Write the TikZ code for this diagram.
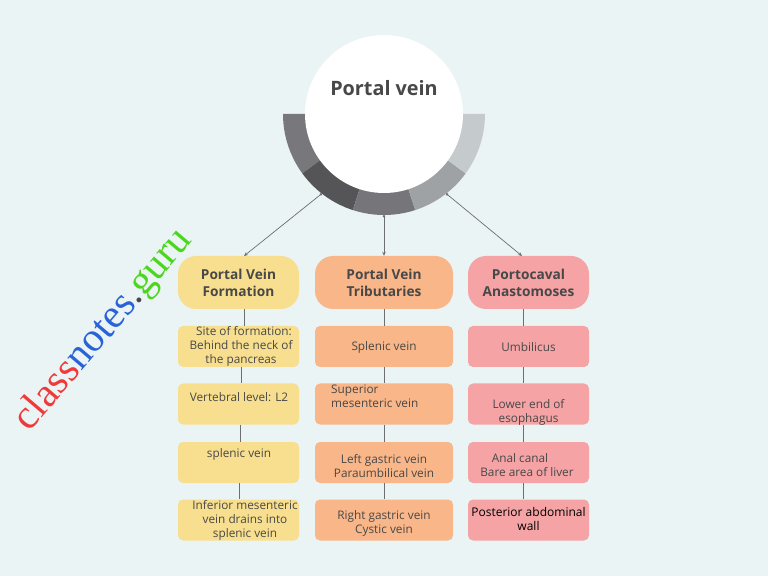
\documentclass[tikz,border=0pt]{standalone}
\usepackage{fontspec}
\setmainfont{Open Sans}
\newfontfamily\wmfont{Liberation Serif}
\usetikzlibrary{arrows.meta}
\definecolor{bg}{HTML}{EAF4F5}
\definecolor{yel}{HTML}{F8DF8F}
\definecolor{org}{HTML}{F9B688}
\definecolor{pnk}{HTML}{F5A3A5}
\definecolor{txt}{HTML}{484848}
\definecolor{lin}{HTML}{6E6E6E}
\definecolor{sega}{HTML}{78787C}
\definecolor{segb}{HTML}{555558}
\definecolor{segc}{HTML}{76767A}
\definecolor{segd}{HTML}{9EA2A5}
\definecolor{sege}{HTML}{C5CBCD}
\definecolor{wmred}{HTML}{F03A3A}
\definecolor{wmblue}{HTML}{2A62D8}
\definecolor{wmgreen}{HTML}{4CD61E}
\begin{document}
\begin{tikzpicture}[x=1pt,y=1pt,
  hdr/.style={rounded corners=18pt, minimum height=53pt, inner sep=0pt, text=txt,
    font=\bfseries\fontsize{13.7}{17}\selectfont, align=center},
  sub/.style={rounded corners=5pt, minimum height=41pt, inner sep=0pt},
  lbl/.style={text=txt, font=\fontsize{11.8}{14}\selectfont, align=center, inner sep=0pt},
  conn/.style={draw=lin, line width=0.7pt},
  arr/.style={conn, {Circle[length=2.5pt]}-{Stealth[length=4pt,width=3.5pt]}},
]
\useasboundingbox (0,0) rectangle (768,576);
\fill[bg] (0,0) rectangle (768,576);

% watermark
\node[rotate=49.6, inner sep=0pt, font=\wmfont\fontsize{41}{43}\selectfont] (wm) at (104,246)
  {\textcolor{wmred}{class}\textcolor{wmblue}{notes}\textcolor{txt}{.}\textcolor{wmgreen}{guru}};

% ring
\begin{scope}[shift={(384,462)}]
  \fill[sega] (180:101) arc[start angle=180,end angle=216,radius=101] -- (216:78) arc[start angle=216,end angle=180,radius=78] -- cycle;
  \fill[segb] (216:101) arc[start angle=216,end angle=252,radius=101] -- (252:78) arc[start angle=252,end angle=216,radius=78] -- cycle;
  \fill[segc] (252:101) arc[start angle=252,end angle=288,radius=101] -- (288:78) arc[start angle=288,end angle=252,radius=78] -- cycle;
  \fill[segd] (288:101) arc[start angle=288,end angle=324,radius=101] -- (324:78) arc[start angle=324,end angle=288,radius=78] -- cycle;
  \fill[sege] (324:101) arc[start angle=324,end angle=360,radius=101] -- (360:78) arc[start angle=360,end angle=324,radius=78] -- cycle;
  \coordinate (rl) at (232:101);
  \coordinate (rm) at (270:101);
  \coordinate (rr) at (308:101);
\end{scope}
\node[circle, fill=white, minimum size=158pt, inner sep=0pt] (pv) at (384,462) {};
\node[text=txt, font=\bfseries\fontsize{19.8}{22}\selectfont, inner sep=0pt] (pvt) at (384,488) {Portal vein};

% headers
\node[hdr, fill=yel, minimum width=121pt] (h1) at (238.5,293.5) {Portal Vein\\Formation};
\node[hdr, fill=org, minimum width=138pt] (h2) at (384,293.5) {Portal Vein\\Tributaries};
\node[hdr, fill=pnk, minimum width=121pt] (h3) at (528.5,293.5) {Portocaval\\Anastomoses};

% sub boxes column 1
\node[sub, fill=yel, minimum width=121pt] (a1) at (238.5,229.5) {};
\node[sub, fill=yel, minimum width=121pt] (a2) at (238.5,172) {};
\node[sub, fill=yel, minimum width=121pt] (a3) at (238.5,113.5) {};
\node[sub, fill=yel, minimum width=121pt] (a4) at (238.5,56) {};
% column 2
\node[sub, fill=org, minimum width=138pt] (b1) at (384,229.5) {};
\node[sub, fill=org, minimum width=138pt] (b2) at (384,172) {};
\node[sub, fill=org, minimum width=138pt] (b3) at (384,113.5) {};
\node[sub, fill=org, minimum width=138pt] (b4) at (384,56) {};
% column 3
\node[sub, fill=pnk, minimum width=121pt] (c1) at (528.5,229.5) {};
\node[sub, fill=pnk, minimum width=121pt] (c2) at (528.5,172) {};
\node[sub, fill=pnk, minimum width=121pt] (c3) at (528.5,113.5) {};
\node[sub, fill=pnk, minimum width=121pt] (c4) at (528.5,56) {};

% texts
\node[lbl] (ta1) at (241,229.5) {\hspace*{6pt}Site of formation:\\Behind the neck of\\the pancreas};
\node[lbl] (ta2) at (239,179) {Vertebral level: L2};
\node[lbl] (ta3) at (239,122) {splenic vein};
\node[lbl] (ta4) at (245,56) {Inferior mesenteric\\vein drains into\\splenic vein};
\node[lbl] (tb1) at (384,229) {Splenic vein};
\node[lbl, align=left, anchor=west] (tb2) at (331,180) {Superior\\mesenteric vein};
\node[lbl] (tb3) at (384,110) {Left gastric vein\\Paraumbilical vein};
\node[lbl] (tb4) at (384,53) {Right gastric vein\\Cystic vein};
\node[lbl] (tc1) at (528.5,229) {Umbilicus};
\node[lbl] (tc2) at (528.5,164) {Lower end of\\esophagus};
\node[lbl] (tc3) at (527,111) {Anal canal\hspace*{14pt}\\Bare area of liver};
\node[lbl, text=black, font=\fontsize{12}{14}\selectfont] (tc4) at (528.5,57) {Posterior abdominal\\wall};

% connectors from ring
\coordinate (e1) at (244,320);
\coordinate (e3) at (522,320);
\draw[arr] (rl) -- (e1);
\draw[arr] (rm) -- (h2.north);
\draw[arr] (rr) -- (e3);

% vertical connectors
\draw[conn] ([xshift=5.5pt]h1.south) -- ([xshift=5.5pt]a1.north);
\draw[conn] ([xshift=3pt]a1.south) -- ([xshift=3pt]a2.north);
\draw[conn] ([xshift=2pt]a2.south) -- ([xshift=2pt]a3.north);
\draw[conn] ([xshift=1pt]a3.south) -- ([xshift=1pt]a4.north);
\draw[conn] (h2.south) -- (b1.north);
\draw[conn] (b1.south) -- (b2.north);
\draw[conn] (b2.south) -- (b3.north);
\draw[conn] (b3.south) -- (b4.north);
\draw[conn] ([xshift=-5.5pt]h3.south) -- ([xshift=-5.5pt]c1.north);
\draw[conn] ([xshift=-5.5pt]c1.south) -- ([xshift=-5.5pt]c2.north);
\draw[conn] ([xshift=-5.5pt]c2.south) -- ([xshift=-5.5pt]c3.north);
\draw[conn] ([xshift=-5.5pt]c3.south) -- ([xshift=-5.5pt]c4.north);
\end{tikzpicture}
\end{document}
